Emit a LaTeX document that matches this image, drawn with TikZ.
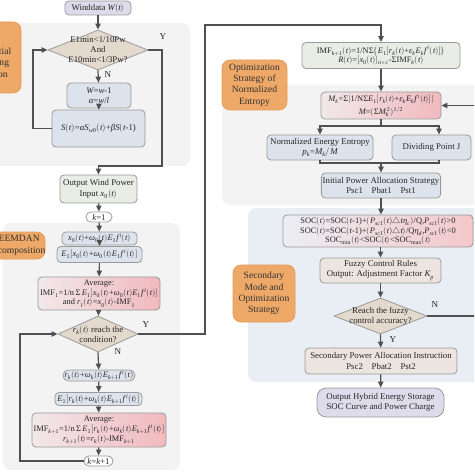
\documentclass[tikz,border=0pt]{standalone}
\usepackage{fontspec}
\usepackage{unicode-math}
\setmainfont{Liberation Serif}
\setmathfont{Latin Modern Math}
\setmathfont{Liberation Serif Italic}[range=it]
\setmathfont{Liberation Serif}[range=up]
\usetikzlibrary{shapes.geometric,arrows.meta,calc}
\definecolor{bord}{HTML}{9A9A9A}
\definecolor{lnc}{HTML}{505050}
\definecolor{panelg}{HTML}{F3F3F3}
\definecolor{panelb}{HTML}{E9EEF4}
\definecolor{orng}{HTML}{EEA867}
\definecolor{orngD}{HTML}{E39A55}
\definecolor{bluef}{HTML}{DDE3EC}
\definecolor{diaf}{HTML}{E4D9CD}
\definecolor{greenf}{HTML}{EAECE6}
\definecolor{lavf}{HTML}{DEDBEB}
\definecolor{pinkL}{HTML}{F2E8EA}
\definecolor{pinkR}{HTML}{F1B9BD}
\definecolor{beigef}{HTML}{ECE4DE}
\newcommand{\fs}{\fontsize{6.6}{7.6}\selectfont}
\newcommand{\fm}{\fontsize{6.3}{7.3}\selectfont}
\newcommand{\fo}{\fontsize{7.2}{8.5}\selectfont}
\begin{document}
\begin{tikzpicture}[x=0.75pt,y=-0.75pt]
\tikzset{
 bx/.style={draw=bord, line width=0.6pt, rounded corners=3pt, align=center, inner sep=1pt, font=\fs, text=black!85},
 sz/.style 2 args={minimum width=#1*0.75pt, minimum height=#2*0.75pt},
 dia/.style={diamond, draw=bord, fill=diaf, line width=0.6pt, inner sep=0pt},
 arr/.style={draw=lnc, line width=0.9pt, -{Triangle[length=4.5pt,width=4pt]}},
 ln/.style={draw=lnc, line width=0.9pt},
 lbl/.style={font=\fontsize{6.8}{8}\selectfont, text=black!85},
 obox/.style={fill=orng, draw=orngD, line width=0.5pt, rounded corners=6pt},
 otext/.style={font=\fo, align=center, text=black!80},
 panel/.style={rounded corners=6pt}
}
\useasboundingbox (0,0) rectangle (474,474);
\clip (0,0) rectangle (474,474);
\fill[white] (0,0) rectangle (474,474);
% panels
\fill[panel, panelg] (-20,23) rectangle (190,166);
\fill[panel, panelg] (3,223) rectangle (180,470);
\fill[panel, panelg] (222,85) rectangle (490,205);
\fill[panel, panelb] (248,208) rectangle (490,382);
% orange labels
\draw[obox] (-60,22) rectangle (21,93);
\node[otext] (o1) at (-12,57) {Dual\\Exponential\\Smoothing\\Prediction};
\draw[obox] (-40,232) rectangle (45,259);
\node[otext] (o2) at (16,245.5) {CEEMDAN\\Decomposition};
\draw[obox] (222,60) rectangle (287,110);
\node[otext] (o3) at (254.5,85) {Optimization\\Strategy of\\Normalized\\Entropy};
\draw[obox] (233,265) rectangle (295,322);
\node[otext] (o4) at (264,293.5) {Secondary\\Mode and\\Optimization\\Strategy};
% left column
\node[bx, sz={66}{14}, fill=lavf] (wind) at (98,8) {Winddata $W(t)$};
\node[dia, sz={100}{40}] (d1) at (98,50) {};
\node[font=\fs, align=center, text=black!85] (d1t) at (d1.center) {E1min\textless1/10Pw\\And\\E10min\textless1/3Pw?};
\node[bx, sz={64}{25}, fill=bluef] (wbox) at (99,95.5) {$W$=$w$-1\\$\alpha$=$w$/$l$};
\node[bx, sz={93}{37}, fill=bluef] (sbox) at (98.5,128.5) {$S(t)$=$\alpha S_{w0}(t)$+$\beta S(t$-1)};
\node[bx, sz={77}{28}, fill=greenf] (out) at (98.5,189) {Output Wind Power\\Input $x_0(t)$};
\node[bx, sz={26}{10}, fill=white, rounded corners=3.7pt, inner sep=0pt] (k1) at (99,217) {$k$=1};
\node[bx, sz={75}{13}, fill=bluef, font=\fm, inner sep=0pt] (x0b) at (99.5,238.5) {$x_0(t)$+$\omega_0(t)E_1f^{\,i}(t)$};
\node[bx, sz={85}{16}, fill=bluef, font=\fm, inner sep=0pt] (e1b) at (99.5,254.5) {$E_1[x_0(t)$+$\omega_0(t)E_1f^{\,i}(t)]$};
\node[bx, sz={122}{33}, left color=pinkL, right color=pinkR, font=\fm, inner sep=0pt] (avg1) at (99,293.5) {Average:\\IMF$_1$=1/n$\,\Sigma\, E_1[x_0(t)$+$\omega_0(t)E_1f^{\,i}(t)]$\\and $r_1(t)$=$x_0(t)$-IMF$_1$};
\node[dia, sz={80}{36}] (d2) at (98,334) {};
\node[font=\fs, align=center, text=black!85] (d2t) at (d2.center) {$r_k(t)$ reach the\\condition?};
\node[bx, sz={72}{11}, fill=bluef, font=\fm, inner sep=0pt, rounded corners=4pt] (rkb) at (99,375.5) {$r_k(t)$+$\omega_k(t)E_{k+1}f^{\,i}(t)$};
\node[bx, sz={87}{13}, fill=bluef, font=\fm, inner sep=0pt] (e2b) at (98.5,399) {$E_1[r_k(t)$+$\omega_k(t)E_{k+1}f^{\,i}(t)]$};
\node[bx, sz={134}{34}, left color=pinkL, right color=pinkR, font=\fm, inner sep=0pt] (avg2) at (99,430) {Average:\\IMF$_{k+1}$=1/n$\,\Sigma\, E_1[r_k(t)$+$\omega_k(t)E_{k+1}f^{\,i}(t)]$\\$r_{k+1}(t)$=$r_k(t)$-IMF$_{k+1}$};
\node[bx, sz={29}{10}, fill=white, rounded corners=3.7pt, inner sep=0pt] (kk) at (98.5,461) {$k$=$k$+1};
% right column
\node[bx, sz={158}{26}, fill=greenf, font=\fm] (imf) at (381,55.5) {IMF$_{k+1}(t)$=1/N$\Sigma\{E_1[r_k(t)$+$\varepsilon_kE_kf^{\,i}(t)]\}$\\$R(t)$=$[x_0(t)]_{n\times c}$-$\Sigma$IMF$_k(t)$};
\node[bx, sz={120}{27}, left color=pinkL, right color=pinkR, font=\fm] (mk) at (381,105.5) {$M_k$=$\Sigma|$1/N$\Sigma E_1[r_k(t)$+$\varepsilon_kE_kf^{\,i}(t)]|$\\[2.5pt]$M$=$(\Sigma M_k^{\,2})^{1/2}$};
\node[bx, sz={106}{25}, fill=bluef] (ne) at (320,147.5) {Normalized Energy Entropy\\$p_k$=$M_k/M$};
\node[bx, sz={79}{25}, fill=bluef] (dp) at (431.5,147.5) {Dividing Point J};
\node[bx, sz={118}{25}, fill=bluef] (ip) at (381,185.5) {Initial Power Allocation Strategy\\Psc1\quad Pbat1\quad Pst1};
\node[bx, sz={190}{32}, left color=bluef!60, right color=pinkR!80, font=\fm, inner sep=0pt] (soc) at (378,231) {SOC$(t)$=SOC$(t$-1)+$(P_{sc1}(t)\triangle t\eta_c)$/Q,$P_{sc1}(t)$\textgreater0\\SOC$(t)$=SOC$(t$-1)+$(P_{sc1}(t)\triangle t)$/Q$\eta_d$,$P_{sc1}(t)$\textless0\\SOC$_{\mathrm{min}}(t)$\textless SOC$(t)$\textless SOC$_{\mathrm{max}}(t)$};
\node[bx, sz={121}{25}, fill=beigef] (fz) at (380.5,270.5) {Fuzzy Control Rules\\Output: Adjustment Factor $K_p$};
\node[dia, sz={93}{36}] (d3) at (380.5,316) {};
\node[font=\fs, align=center, text=black!85] (d3t) at (d3.center) {Reach the fuzzy\\control accuracy?};
\node[bx, sz={152}{26}, fill=beigef] (sp) at (381,361) {Secondary Power Allocation Instruction\\Psc2\quad Pbat2\quad Pst2};
\node[bx, sz={127}{29}, fill=lavf, rounded corners=7pt] (oh) at (380.5,402.5) {Output Hybrid Energy Storage\\SOC Curve and Power Charge};
% labels
\node[lbl] (y1) at (163,37) {Y};
\node[lbl] (n1) at (108,75) {N};
\node[lbl] (y2) at (146,325) {Y};
\node[lbl] (n2) at (118,352) {N};
\node[lbl] (n3) at (435,305) {N};
\node[lbl] (y3) at (393,340) {Y};
% coordinates
\coordinate (c1) at (162,166);
\coordinate (c2) at (205,25);
\coordinate (sp1) at (381,126);
\coordinate (jn) at (381,163);
\coordinate (far) at (495,105.5);
% connectors left
\draw[arr] (wind) -- (d1);
\draw[arr] (d1.east) -| (c1) -| (out.north);
\draw[arr] (d1.south) -- (wbox);
\draw[arr] (wbox) -- (sbox);
\draw[arr] (sbox.west) -- (33,128.5) |- (d1.west);
\draw[arr] (out) -- (k1);
\draw[arr] (k1) -- (x0b);
\draw[arr] (x0b) -- (e1b);
\draw[arr] (e1b) -- (avg1);
\draw[arr] (avg1) -- (d2);
\draw[arr] (d2.east) -| (c2) -| (imf.north);
\draw[arr] (d2.south) -- (rkb);
\draw[arr] (rkb) -- (e2b);
\draw[arr] (e2b) -- (avg2);
\draw[arr] (avg2) -- (kk);
\draw[arr] (kk.west) -- (20,461) |- (d2.west);
% connectors right
\draw[arr] (imf) -- (mk);
\draw[ln] (mk.south) -- (sp1);
\draw[arr] (sp1) -| (ne.north);
\draw[arr] (sp1) -| ($(dp.north)+(7.5,0)$);
\draw[ln] (ne.south) |- (jn) -| ($(dp.south)+(7.5,0)$);
\draw[arr] (jn) -- (ip);
\draw[arr] (ip) -- (soc.north -| ip);
\draw[arr] (soc.south -| fz) -- (fz);
\draw[arr] (fz) -- (d3);
\draw[arr] (d3.south) -- (sp);
\draw[arr] (sp) -- (oh);
\draw[arr] (d3.east) -| (far) -- (mk.east);
\end{tikzpicture}
\end{document}
